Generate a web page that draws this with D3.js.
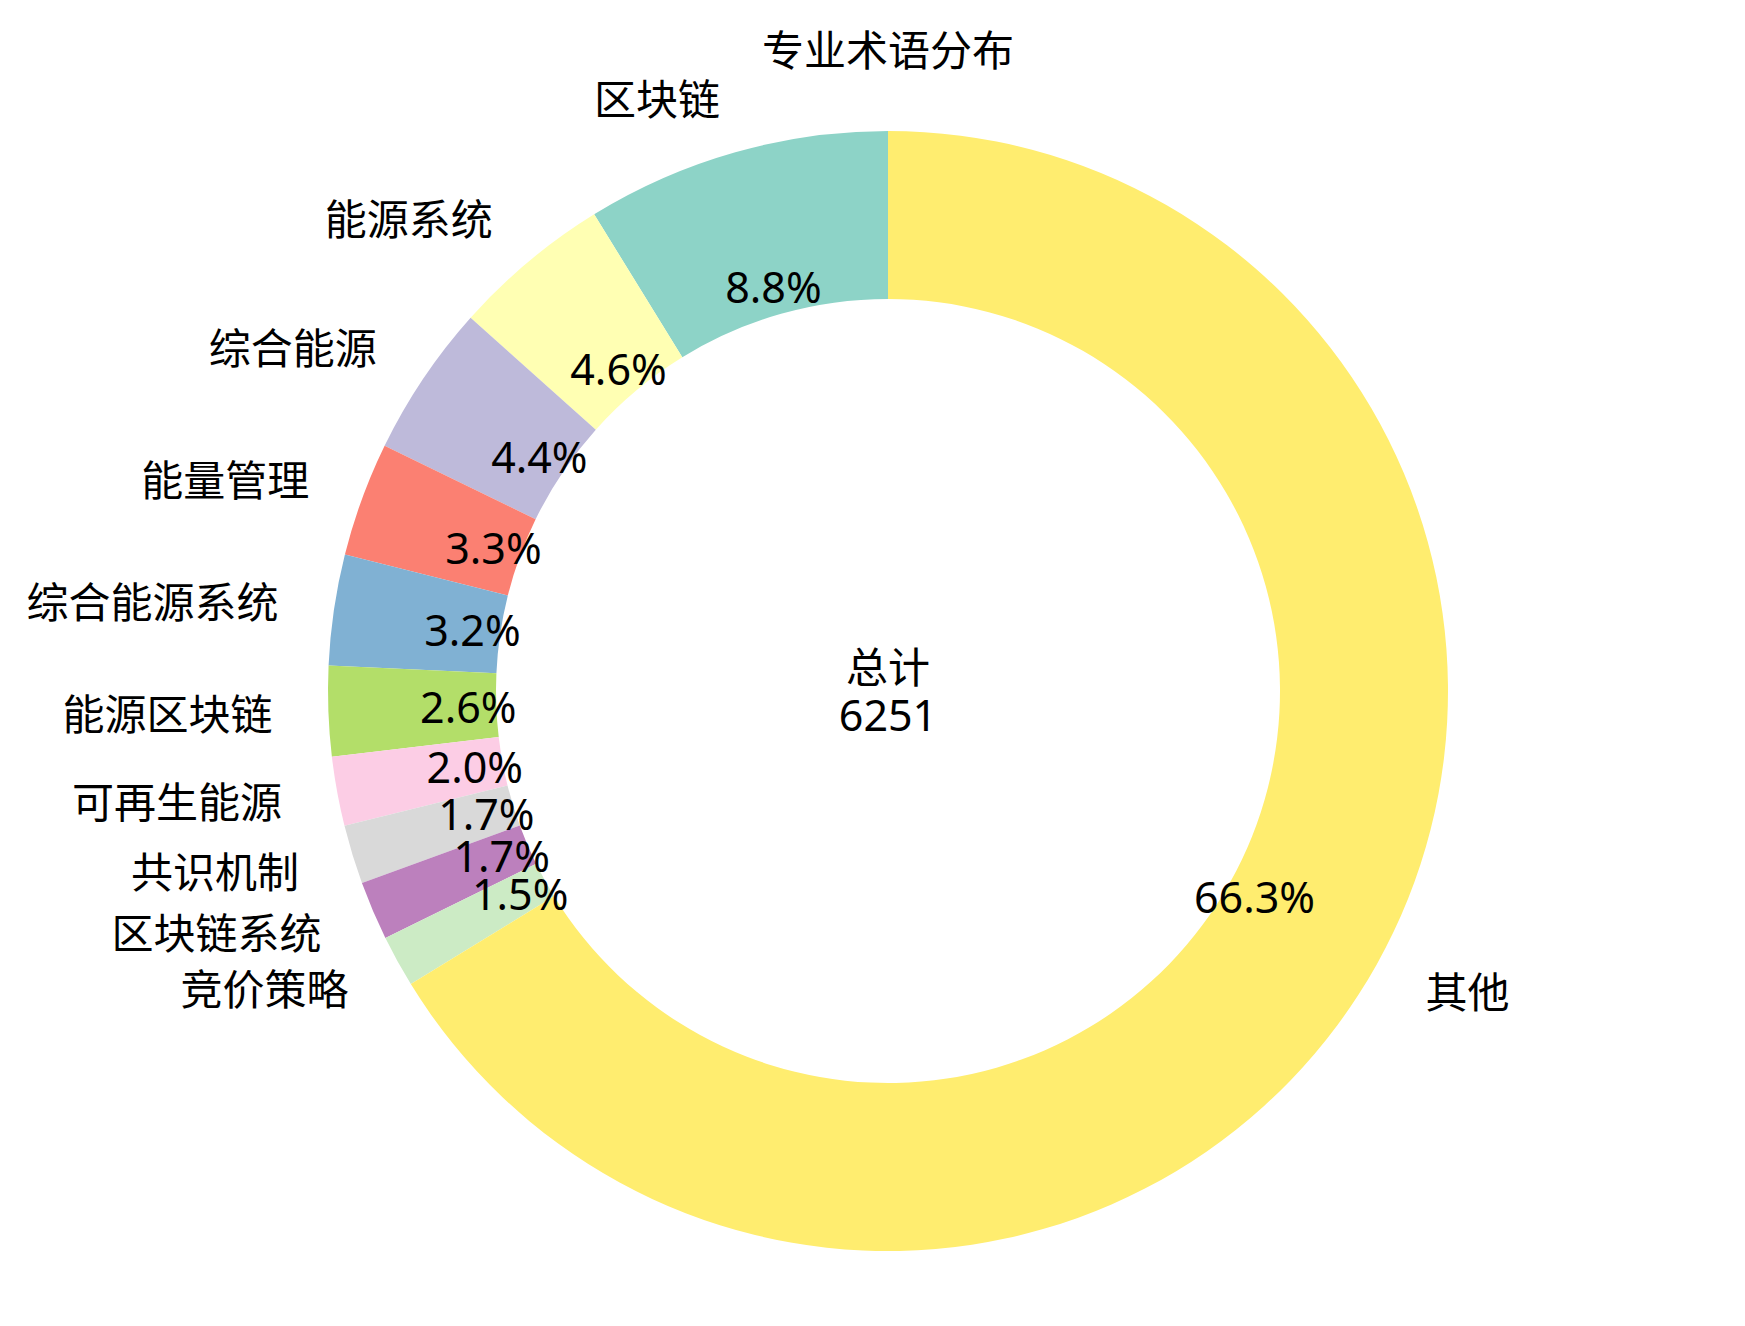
<!DOCTYPE html>
<html>
<head>
<meta charset="utf-8">
<script src="https://cdn.jsdelivr.net/npm/d3@7/dist/d3.min.js"></script>
<style>
  html, body { margin: 0; padding: 0; background: #ffffff; }
  svg { display: block; }
  text { font-family: "Noto Sans", "Noto Sans CJK SC", sans-serif; fill: #000; }
</style>
</head>
<body>
<svg id="chart" width="1745" height="1326"></svg>
<script>
const categories = ["区块链", "能源系统", "综合能源", "能量管理", "综合能源系统", "能源区块链", "可再生能源", "共识机制", "区块链系统", "竞价策略", "其他"];
const shares = [8.8, 4.6, 4.4, 3.3, 3.2, 2.6, 2.0, 1.7, 1.7, 1.5, 66.3];
const colors = ["#8dd3c7", "#ffffb3", "#bebada", "#fb8072", "#80b1d3", "#b3de69", "#fccde5", "#d9d9d9", "#bc80bd", "#ccebc5", "#ffed6f"];
const titleText = "专业术语分布";
const centerLabel = "总计";
const totalCount = "6251";

const W = 1745, H = 1326;
const cx = 888, cy = 691;
const R = 560, innerR = R * 0.7;
const fontSize = 42;
const pctSize = 43;

const svg = d3.select("#chart");
svg.append("rect").attr("width", W).attr("height", H).attr("fill", "#fff");

const g = svg.append("g").attr("transform", `translate(${cx},${cy})`);

const data = categories.map((c, i) => ({ name: c, value: shares[i], color: colors[i] }));
const pie = d3.pie().value(d => d.value).sort(null).startAngle(0).endAngle(-2 * Math.PI);
const arcs = pie(data);
const arc = d3.arc().innerRadius(innerR).outerRadius(R);

g.selectAll("path.slice")
  .data(arcs)
  .join("path")
  .attr("class", "slice")
  .attr("d", arc)
  .attr("fill", d => d.data.color);

function pos(a, r) { return [Math.sin(a) * r, -Math.cos(a) * r]; }

// outer labels
g.selectAll("text.lbl")
  .data(arcs)
  .join("text")
  .attr("class", "lbl")
  .each(function(d) {
    const a = (d.startAngle + d.endAngle) / 2;
    const [x, y] = pos(a, R * 1.1);
    d3.select(this)
      .attr("x", x).attr("y", y)
      .attr("text-anchor", x < 0 ? "end" : "start")
      .attr("dominant-baseline", "central");
  })
  .attr("font-size", fontSize)
  .text(d => d.data.name);

// percent labels
g.selectAll("text.pct")
  .data(arcs)
  .join("text")
  .attr("class", "pct")
  .each(function(d) {
    const a = (d.startAngle + d.endAngle) / 2;
    const [x, y] = pos(a, R * 0.75);
    d3.select(this).attr("x", x).attr("y", y);
  })
  .attr("text-anchor", "middle")
  .attr("dominant-baseline", "central")
  .attr("font-size", pctSize)
  .text(d => d.data.value.toFixed(1) + "%");

// center
g.append("text").attr("x", 0).attr("y", -25).attr("text-anchor", "middle")
  .attr("dominant-baseline", "central").attr("font-size", fontSize).text(centerLabel);
g.append("text").attr("x", 0).attr("y", 23).attr("text-anchor", "middle")
  .attr("dominant-baseline", "central").attr("font-size", pctSize).text(totalCount);

// title
svg.append("text").attr("x", cx).attr("y", 49).attr("text-anchor", "middle")
  .attr("dominant-baseline", "central").attr("font-size", fontSize).text(titleText);
</script>
</body>
</html>
